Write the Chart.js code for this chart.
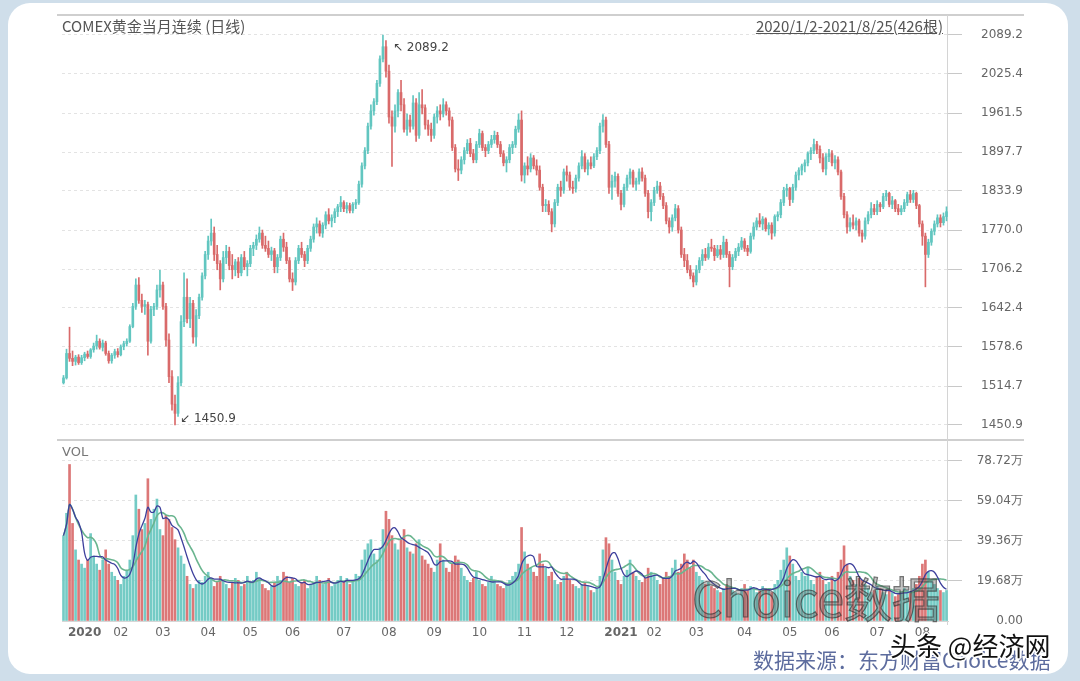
<!DOCTYPE html>
<html><head><meta charset="utf-8">
<script src="https://cdn.jsdelivr.net/npm/chart.js@4.4.1/dist/chart.umd.min.js"></script>
<style>
html,body{margin:0;padding:0;}
body{width:1080px;height:681px;background:#cfdeea;position:relative;overflow:hidden;font-family:"Noto Sans CJK SC","Noto Sans",sans-serif;}
.card{position:absolute;left:8px;top:3px;width:1060px;height:671px;background:#fff;border-radius:22px;}
.ln{position:absolute;background:#cfcfcf;}
canvas#c{position:absolute;left:0;top:0;}
.t{position:absolute;white-space:nowrap;line-height:1;}
</style></head><body>
<div class="card"></div>
<div class="ln" style="left:57px;top:14px;width:967px;height:2px;"></div>
<div class="ln" style="left:57px;top:439px;width:967px;height:2px;"></div>
<div class="ln" style="left:947px;top:15px;width:1px;height:610px;background:#d4d4d4"></div>
<canvas id="c" width="1080" height="681"></canvas>
<div class="t" style="left:62px;top:18px;font-size:15px;color:#555;">COMEX黄金当月连续 (日线)</div>
<div class="t" style="right:137px;top:18px;font-size:15px;color:#555;text-decoration:underline;">2020/1/2-2021/8/25(426根)</div>
<div class="t" style="left:62px;top:445px;font-size:13px;color:#777;font-family:'DejaVu Sans';">VOL</div>
<div class="t" style="left:692px;top:572px;font-size:48px;color:rgba(90,90,90,0.35);-webkit-text-stroke:1.2px rgba(50,50,50,0.65);">Choice数据</div>
<div class="t" style="left:753px;top:649px;font-size:21px;color:#5d6c9e;">数据来源：东方财富Choice数据</div>
<div class="t" style="left:890px;top:632px;font-size:26px;color:#111;text-shadow:-2px 0 #fff,2px 0 #fff,0 -2px #fff,0 2px #fff,-1px -1px #fff,1px 1px #fff,-1px 1px #fff,1px -1px #fff;">头条 @经济网</div>
<script>
// ---- data (COMEX gold, candles of ~1.5 trading days) ----
const open = [
1520,1528,1568,1560,1555,1562,1553,1561,1567,1563,
1574,1580,1588,1578,1585,1568,1556,1565,1571,1566,
1579,1584,1588,1612,1645,1680,1655,1645,1648,1588,
1640,1645,1672,1680,1645,1590,1530,1485,1470,1520,
1620,1660,1625,1650,1595,1630,1660,1695,1730,1752,
1765,1730,1715,1690,1725,1735,1712,1705,1718,1700,
1725,1710,1715,1740,1745,1755,1765,1745,1740,1730,
1736,1710,1725,1755,1742,1720,1690,1685,1720,1740,
1730,1720,1740,1755,1775,1780,1765,1778,1795,1785,
1790,1800,1808,1815,1805,1810,1802,1812,1815,1845,
1875,1900,1940,1965,1980,2010,2050,2070,2030,1955,
1940,1965,1995,1975,1935,1950,1940,1978,1925,1975,
1970,1942,1935,1925,1955,1965,1960,1975,1965,1950,
1905,1870,1868,1885,1900,1912,1895,1885,1910,1928,
1905,1900,1910,1918,1925,1910,1895,1880,1885,1905,
1910,1935,1950,1860,1875,1870,1888,1875,1868,1840,
1810,1812,1800,1780,1815,1840,1835,1865,1860,1840,
1838,1855,1875,1890,1870,1880,1875,1890,1900,1940,
1950,1910,1840,1850,1858,1830,1812,1840,1855,1865,
1845,1850,1865,1855,1830,1800,1815,1835,1842,1825,
1810,1785,1775,1790,1805,1770,1730,1720,1705,1695,
1685,1705,1720,1730,1725,1742,1740,1728,1738,1730,
1750,1730,1710,1725,1735,1742,1752,1740,1735,1760,
1775,1785,1780,1788,1772,1778,1765,1792,1795,1815,
1835,1838,1820,1840,1860,1868,1875,1880,1895,1900,
1910,1902,1888,1870,1890,1895,1880,1885,1865,1825,
1795,1775,1782,1778,1785,1765,1760,1785,1795,1805,
1800,1812,1808,1825,1830,1812,1818,1805,1800,1805,
1815,1828,1820,1830,1810,1780,1760,1730,1750,1768,
1780,1790,1782,1792];
const high = [
1532,1575,1611,1572,1565,1566,1565,1570,1572,1576,
1585,1598,1592,1590,1588,1572,1568,1575,1576,1582,
1588,1592,1615,1650,1690,1692,1665,1655,1652,1645,
1650,1680,1704,1685,1650,1600,1540,1500,1530,1630,
1700,1690,1660,1655,1640,1665,1700,1735,1760,1788,
1775,1745,1720,1735,1745,1742,1730,1722,1725,1730,
1735,1720,1745,1750,1762,1775,1770,1760,1752,1742,
1740,1730,1760,1765,1750,1725,1700,1725,1745,1750,
1735,1745,1760,1780,1790,1785,1782,1800,1805,1795,
1805,1812,1825,1818,1815,1814,1815,1820,1850,1880,
1905,1945,1975,1985,2015,2055,2089.2,2080,2040,1965,
1975,2000,2015,1985,1960,1958,1990,1985,1995,2000,
1975,1950,1945,1960,1972,1975,1985,1980,1970,1955,
1910,1885,1890,1905,1918,1920,1902,1915,1935,1932,
1910,1915,1925,1932,1930,1915,1900,1890,1910,1915,
1940,1960,1965,1880,1890,1895,1892,1885,1875,1845,
1820,1818,1805,1820,1845,1850,1870,1875,1865,1850,
1860,1880,1900,1895,1885,1890,1895,1905,1945,1959,
1955,1915,1860,1865,1862,1835,1845,1860,1870,1868,
1855,1870,1872,1860,1835,1820,1840,1850,1848,1830,
1815,1790,1795,1812,1810,1775,1740,1730,1712,1700,
1712,1725,1738,1740,1748,1755,1745,1745,1745,1760,
1755,1735,1730,1740,1748,1758,1756,1745,1765,1782,
1790,1797,1792,1790,1782,1782,1795,1800,1820,1840,
1845,1840,1845,1865,1872,1878,1885,1898,1905,1919,
1915,1908,1895,1895,1902,1900,1892,1890,1868,1830,
1800,1790,1795,1790,1788,1770,1790,1800,1815,1812,
1818,1815,1830,1835,1832,1825,1820,1812,1810,1820,
1832,1835,1835,1832,1812,1785,1765,1755,1772,1785,
1795,1795,1798,1808];
const low = [
1518,1526,1555,1548,1549,1550,1550,1556,1560,1560,
1570,1575,1575,1572,1565,1552,1552,1560,1562,1564,
1574,1580,1586,1610,1640,1650,1635,1632,1565,1585,
1630,1640,1660,1640,1580,1520,1475,1450.9,1465,1515,
1612,1618,1610,1585,1580,1625,1655,1690,1722,1745,
1720,1705,1672,1685,1715,1705,1690,1695,1692,1695,
1705,1695,1710,1728,1738,1750,1740,1735,1725,1720,
1700,1700,1720,1735,1715,1685,1671,1680,1715,1725,
1710,1715,1735,1750,1765,1760,1758,1772,1780,1775,
1782,1792,1800,1800,1798,1798,1798,1805,1812,1840,
1870,1895,1935,1958,1975,2005,2045,2020,1945,1874,
1930,1955,1965,1930,1925,1930,1935,1915,1920,1960,
1935,1925,1915,1920,1945,1950,1955,1958,1940,1900,
1865,1851,1862,1878,1895,1890,1880,1880,1905,1900,
1890,1895,1905,1912,1905,1890,1875,1865,1880,1895,
1905,1930,1850,1847,1860,1865,1870,1860,1835,1800,
1800,1795,1767,1775,1810,1825,1830,1850,1835,1830,
1832,1850,1870,1865,1860,1870,1872,1885,1895,1930,
1905,1830,1820,1840,1825,1803,1808,1835,1845,1840,
1835,1845,1850,1825,1790,1785,1810,1830,1820,1805,
1780,1765,1768,1785,1765,1725,1710,1700,1690,1677,
1680,1700,1712,1720,1722,1735,1720,1725,1722,1725,
1725,1677,1705,1720,1728,1738,1735,1728,1732,1755,
1770,1775,1770,1768,1762,1755,1760,1785,1790,1810,
1825,1810,1815,1835,1852,1860,1865,1875,1885,1895,
1895,1880,1865,1860,1882,1875,1870,1860,1820,1790,
1765,1768,1772,1770,1760,1750,1755,1780,1790,1795,
1795,1800,1805,1818,1808,1805,1800,1795,1795,1800,
1810,1815,1815,1805,1775,1745,1677,1725,1745,1762,
1775,1775,1778,1785];
const close = [
1528,1568,1560,1555,1562,1553,1561,1567,1563,1574,
1580,1588,1578,1585,1568,1556,1565,1571,1566,1579,
1584,1588,1612,1645,1680,1655,1645,1648,1588,1640,
1645,1672,1680,1645,1590,1530,1485,1470,1520,1620,
1660,1625,1650,1595,1630,1660,1695,1730,1752,1765,
1730,1715,1690,1725,1735,1712,1705,1718,1700,1725,
1710,1715,1740,1745,1755,1765,1745,1740,1730,1736,
1710,1725,1755,1742,1720,1690,1685,1720,1740,1730,
1720,1740,1755,1775,1780,1765,1778,1795,1785,1790,
1800,1808,1815,1805,1810,1802,1812,1815,1845,1875,
1900,1940,1965,1980,2010,2050,2070,2030,1955,1940,
1965,1995,1975,1935,1950,1940,1978,1925,1975,1970,
1942,1935,1925,1955,1965,1960,1975,1965,1950,1905,
1870,1868,1885,1900,1912,1895,1885,1910,1928,1905,
1900,1910,1918,1925,1910,1895,1880,1885,1905,1910,
1935,1950,1860,1875,1870,1888,1875,1868,1840,1810,
1812,1800,1780,1815,1840,1835,1865,1860,1840,1838,
1855,1875,1890,1870,1880,1875,1890,1900,1940,1950,
1910,1840,1850,1858,1830,1812,1840,1855,1865,1845,
1850,1865,1855,1830,1800,1815,1835,1842,1825,1810,
1785,1775,1790,1805,1770,1730,1720,1705,1695,1685,
1705,1720,1730,1725,1742,1740,1728,1738,1730,1750,
1730,1710,1725,1735,1742,1752,1740,1735,1760,1775,
1785,1780,1788,1772,1778,1765,1792,1795,1815,1835,
1838,1820,1840,1860,1868,1875,1880,1895,1900,1910,
1902,1888,1870,1890,1895,1880,1885,1865,1825,1795,
1775,1782,1778,1785,1765,1760,1785,1795,1805,1800,
1812,1808,1825,1830,1812,1818,1805,1800,1805,1815,
1828,1820,1830,1810,1780,1760,1730,1750,1768,1780,
1790,1782,1792,1800];
// volume in 万 (10k contracts)
const volume = [
42,53,77,48,35,30,28,26,30,43,32,28,25,30,35,
28,24,22,20,18,22,25,30,42,62,55,45,48,70,
50,55,60,45,42,52,50,46,40,36,32,28,22,18,16,
18,20,19,22,24,21,17,19,22,20,18,16,19,21,20,17,18,22,19,20,24,21,18,16,15,17,19,22,20,24,22,19,
21,18,17,19,20,16,18,19,22,20,18,19,21,17,18,20,22,19,21,18,20,23,22,
30,35,38,40,33,30,36,45,54,50,42,38,35,40,45,36,34,33,38,40,32,30,
28,26,24,30,38,30,26,24,28,32,30,26,22,20,19,21,24,20,18,17,19,22,20,18,17,16,
18,20,22,24,28,46,34,28,26,24,22,33,28,26,22,24,20,18,19,22,24,20,18,17,16,18,19,17,15,14,
16,22,35,41,38,30,24,20,18,22,25,30,24,22,20,19,21,26,24,22,20,18,21,24,22,26,30,24,
28,33,30,26,30,24,22,20,18,19,17,16,15,14,16,18,17,15,14,13,16,18,15,17,16,14,15,17,16,15,14,
18,20,25,30,36,32,28,22,20,24,22,26,20,18,22,24,20,18,19,22,20,24,30,37,28,22,20,18,21,
20,18,16,14,15,17,16,14,13,15,14,12,13,14,16,15,14,16,18,22,28,30,24,20,18,16,15,14,15];
const monthLabels = ['2020','02','03','04','05','06','07','08','09','10','11','12','2021','02','03','04','05','06','07','08'];
const monthTickIndex = [7,19,33,48,62,76,93,108,123,138,153,167,185,196,210,226,241,255,270,285];
const priceTicks = [1450.9,1514.7,1578.6,1642.4,1706.2,1770.0,1833.9,1897.7,1961.5,2025.4,2089.2];
const volTicks = [0,19.68,39.36,59.04,78.72];

if ([high,low,close,volume].some(a=>a.length!==open.length)) console.error('length mismatch', open.length, high.length, low.length, close.length, volume.length);

// ---- derived ----
const UP='#62c6c0', DOWN='#d96a6a', UPV='#74cbc5', DOWNV='#dc7777';
const labels = open.map((_,i)=>String(i));
const isUp = open.map((o,i)=>close[i]>=o);
const cCol = isUp.map(u=>u?UP:DOWN);
const vCol = isUp.map(u=>u?UPV:DOWNV);
function ma(arr,n){return arr.map((_,i)=>{const s=arr.slice(Math.max(0,i-n+1),i+1);return s.reduce((a,b)=>a+b,0)/s.length;});}
const tickMap = {}; monthTickIndex.forEach((k,j)=>tickMap[k]=monthLabels[j]);

const annot = {
  id:'annot',
  afterDatasetsDraw(chart){
    const {ctx, scales:{x,y}} = chart;
    const iMax = high.indexOf(Math.max(...high));
    const iMin = low.indexOf(Math.min(...low));
    ctx.save();
    ctx.font = '12px "DejaVu Sans"';
    ctx.fillStyle = '#444';
    ctx.textBaseline = 'middle';
    ctx.fillText('↖ ' + high[iMax].toFixed(1), x.getPixelForValue(iMax)+10, y.getPixelForValue(high[iMax])+13);
    ctx.fillText('↙ ' + low[iMin].toFixed(1), x.getPixelForValue(iMin)+5, y.getPixelForValue(low[iMin])-6);
    ctx.restore();
  }
};

const tickFont = {family:'DejaVu Sans', size:12};
new Chart(document.getElementById('c'), {
  data:{
    labels,
    datasets:[
      {type:'line', data:ma(volume,5), yAxisID:'yv', borderColor:'#3d3f9c', borderWidth:1.3, pointRadius:0, tension:0.3, order:0},
      {type:'line', data:ma(volume,10), yAxisID:'yv', borderColor:'#6ab58f', borderWidth:1.6, pointRadius:0, tension:0.3, order:0},
      {type:'bar', data:open.map((o,i)=>[o,close[i]]), yAxisID:'y', backgroundColor:cCol, barThickness:2, minBarLength:1, grouped:false, order:1},
      {type:'bar', data:low.map((l,i)=>[l,high[i]]), yAxisID:'y', backgroundColor:cCol, barThickness:1, grouped:false, order:2},
      {type:'bar', data:volume, yAxisID:'yv', backgroundColor:vCol, barThickness:2, grouped:false, order:3}
    ]
  },
  options:{
    responsive:false, animation:false, devicePixelRatio:1,
    layout:{padding:{left:62,right:57,top:15,bottom:32}},
    plugins:{legend:{display:false}, tooltip:{enabled:false}},
    scales:{
      x:{type:'category', offset:true,
        grid:{display:false, drawTicks:false},
        border:{display:true, color:'#d6d6d6', dash:[]},
        ticks:{autoSkip:false, maxRotation:0, minRotation:0, padding:5, color:'#666',
          font:(c)=>({family:'DejaVu Sans', size:12, weight: (tickMap[c.index]||'').length===4 ? 'bold':'normal'}),
          callback:(v,i)=>tickMap[i]||''},
        afterFit(s){s.height=28;}
      },
      y:{position:'right', stack:'s', stackWeight:425, min:1426.35, max:2121.93,
        afterBuildTicks(s){s.ticks = priceTicks.map(v=>({value:v}));},
        afterFit(s){s.width=75;},
        grid:{color:'#e3e3e3', tickColor:'#c8c8c8', tickLength:14, tickBorderDash:[]},
        border:{display:false, dash:[3,3]},
        ticks:{color:'#666', font:tickFont, crossAlign:'far', padding:4, callback:v=>Number(v).toFixed(1)}
      },
      yv:{position:'right', stack:'s', stackWeight:181, min:0, max:89.05,
        afterBuildTicks(s){s.ticks = volTicks.map(v=>({value:v}));},
        afterFit(s){s.width=75;},
        grid:{color:c=>c.tick&&c.tick.value===0?'rgba(0,0,0,0)':'#e3e3e3',
              tickColor:c=>c.tick&&c.tick.value===0?'rgba(0,0,0,0)':'#c8c8c8', tickLength:14, tickBorderDash:[]},
        border:{display:false, dash:[3,3]},
        ticks:{color:'#666', font:tickFont, crossAlign:'far', padding:4, callback:v=>v===0?'0.00':Number(v).toFixed(2)+'万'}
      }
    }
  },
  plugins:[annot]
});
</script>
</body></html>
